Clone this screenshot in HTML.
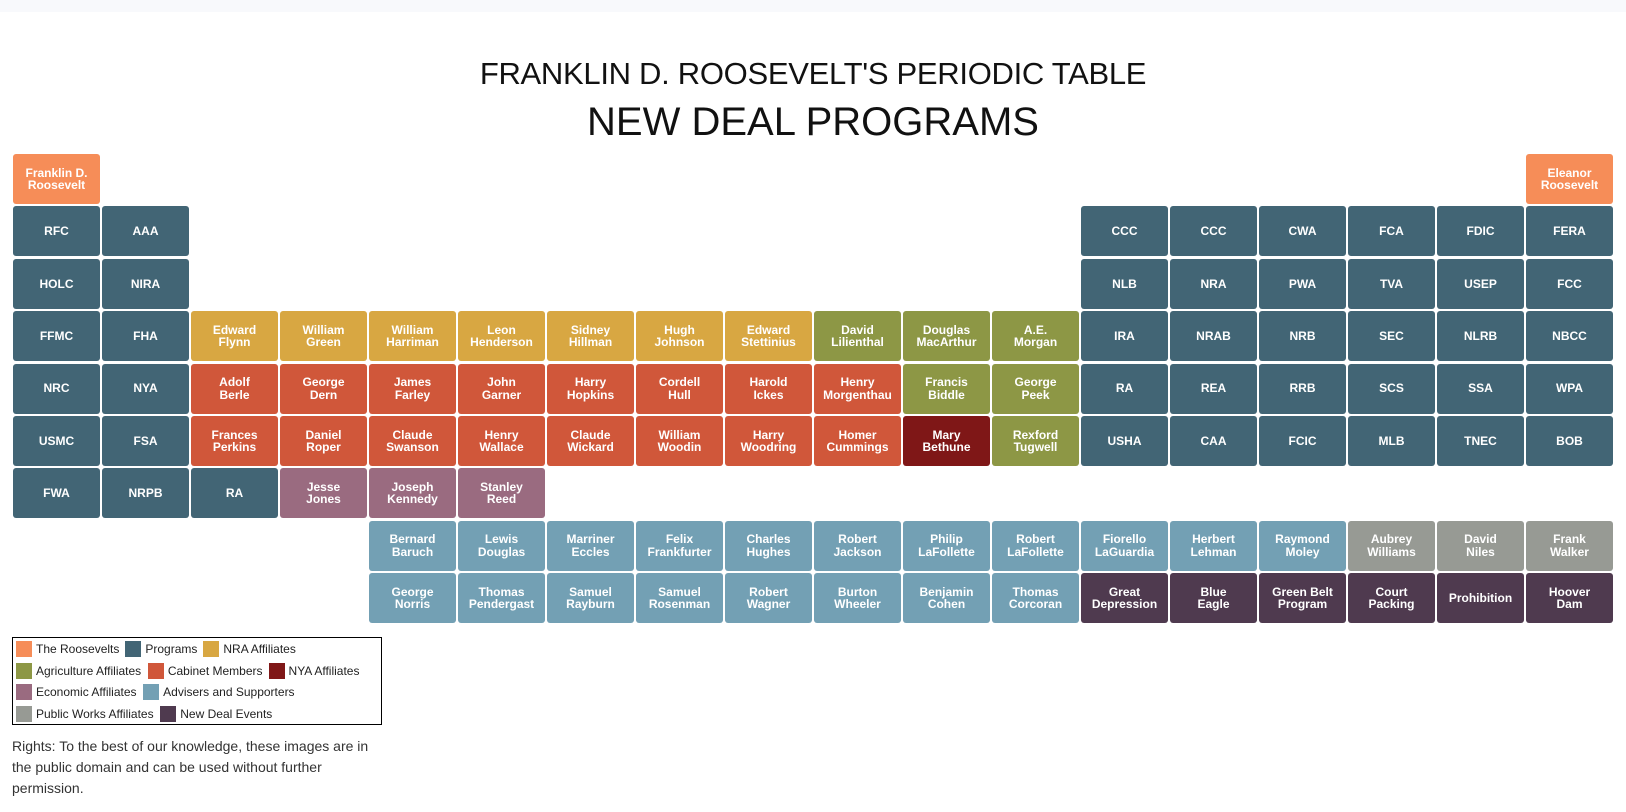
<!DOCTYPE html>
<html><head><meta charset="utf-8">
<style>
body{margin:0;width:1626px;height:812px;background:#fff;font-family:"Liberation Sans",Arial,sans-serif;position:relative;overflow:hidden}
#topband{position:absolute;left:0;top:0;width:1626px;height:12px;background:#f8f9fc}
.t1{position:absolute;left:0;width:1626px;text-align:center;color:#111;font-weight:normal}
.cell{position:absolute;width:87px;height:50px;border-radius:3px;color:#fff;font-weight:bold;font-size:12px;line-height:12.5px;display:flex;align-items:center;justify-content:center;text-align:center}
#legend{position:absolute;left:12px;top:637px;width:368px;height:86px;border:1px solid #000}
.li{position:absolute;font-size:12px;color:#222;display:flex;align-items:center;height:18px}
.sw{width:16px;height:16px;margin-right:4px}
#rights{position:absolute;left:12px;top:736px;width:372px;font-size:14px;line-height:21px;color:#333}
</style></head><body>
<div id="topband"></div>
<div class="t1" style="top:56px;font-size:31px;letter-spacing:-0.3px">FRANKLIN D. ROOSEVELT'S PERIODIC TABLE</div>
<div class="t1" style="top:100px;font-size:40px">NEW DEAL PROGRAMS</div>
<div id="table"></div>
<div id="legend"></div>
<div id="rights">Rights: To the best of our knowledge, these images are in the public domain and can be used without further permission.</div>
<script>
const categories=["The Roosevelts","Programs","NRA Affiliates","Agriculture Affiliates","Cabinet Members","NYA Affiliates","Economic Affiliates","Advisers and Supporters","Public Works Affiliates","New Deal Events"];
const colors=["#f68d58","#426575","#d8a742","#8d9745","#d0573a","#7f1717","#9a6b80","#73a0b4","#979a94","#4f3a4f"];
// [row, col, category index, label]
const elements=[
[0,0,0,"Franklin D.|Roosevelt"],[0,17,0,"Eleanor|Roosevelt"],
[1,0,1,"RFC"],[1,1,1,"AAA"],[1,12,1,"CCC"],[1,13,1,"CCC"],[1,14,1,"CWA"],[1,15,1,"FCA"],[1,16,1,"FDIC"],[1,17,1,"FERA"],
[2,0,1,"HOLC"],[2,1,1,"NIRA"],[2,12,1,"NLB"],[2,13,1,"NRA"],[2,14,1,"PWA"],[2,15,1,"TVA"],[2,16,1,"USEP"],[2,17,1,"FCC"],
[3,0,1,"FFMC"],[3,1,1,"FHA"],[3,2,2,"Edward|Flynn"],[3,3,2,"William|Green"],[3,4,2,"William|Harriman"],[3,5,2,"Leon|Henderson"],[3,6,2,"Sidney|Hillman"],[3,7,2,"Hugh|Johnson"],[3,8,2,"Edward|Stettinius"],[3,9,3,"David|Lilienthal"],[3,10,3,"Douglas|MacArthur"],[3,11,3,"A.E.|Morgan"],[3,12,1,"IRA"],[3,13,1,"NRAB"],[3,14,1,"NRB"],[3,15,1,"SEC"],[3,16,1,"NLRB"],[3,17,1,"NBCC"],
[4,0,1,"NRC"],[4,1,1,"NYA"],[4,2,4,"Adolf|Berle"],[4,3,4,"George|Dern"],[4,4,4,"James|Farley"],[4,5,4,"John|Garner"],[4,6,4,"Harry|Hopkins"],[4,7,4,"Cordell|Hull"],[4,8,4,"Harold|Ickes"],[4,9,4,"Henry|Morgenthau"],[4,10,3,"Francis|Biddle"],[4,11,3,"George|Peek"],[4,12,1,"RA"],[4,13,1,"REA"],[4,14,1,"RRB"],[4,15,1,"SCS"],[4,16,1,"SSA"],[4,17,1,"WPA"],
[5,0,1,"USMC"],[5,1,1,"FSA"],[5,2,4,"Frances|Perkins"],[5,3,4,"Daniel|Roper"],[5,4,4,"Claude|Swanson"],[5,5,4,"Henry|Wallace"],[5,6,4,"Claude|Wickard"],[5,7,4,"William|Woodin"],[5,8,4,"Harry|Woodring"],[5,9,4,"Homer|Cummings"],[5,10,5,"Mary|Bethune"],[5,11,3,"Rexford|Tugwell"],[5,12,1,"USHA"],[5,13,1,"CAA"],[5,14,1,"FCIC"],[5,15,1,"MLB"],[5,16,1,"TNEC"],[5,17,1,"BOB"],
[6,0,1,"FWA"],[6,1,1,"NRPB"],[6,2,1,"RA"],[6,3,6,"Jesse|Jones"],[6,4,6,"Joseph|Kennedy"],[6,5,6,"Stanley|Reed"],
[7,4,7,"Bernard|Baruch"],[7,5,7,"Lewis|Douglas"],[7,6,7,"Marriner|Eccles"],[7,7,7,"Felix|Frankfurter"],[7,8,7,"Charles|Hughes"],[7,9,7,"Robert|Jackson"],[7,10,7,"Philip|LaFollette"],[7,11,7,"Robert|LaFollette"],[7,12,7,"Fiorello|LaGuardia"],[7,13,7,"Herbert|Lehman"],[7,14,7,"Raymond|Moley"],[7,15,8,"Aubrey|Williams"],[7,16,8,"David|Niles"],[7,17,8,"Frank|Walker"],
[8,4,7,"George|Norris"],[8,5,7,"Thomas|Pendergast"],[8,6,7,"Samuel|Rayburn"],[8,7,7,"Samuel|Rosenman"],[8,8,7,"Robert|Wagner"],[8,9,7,"Burton|Wheeler"],[8,10,7,"Benjamin|Cohen"],[8,11,7,"Thomas|Corcoran"],[8,12,9,"Great|Depression"],[8,13,9,"Blue|Eagle"],[8,14,9,"Green Belt|Program"],[8,15,9,"Court|Packing"],[8,16,9,"Prohibition"],[8,17,9,"Hoover|Dam"]
];
const legendRows=[[0,1,2],[3,4,5],[6,7],[8,9]];
function xPos(c){return 13+c*89;}
function yPos(r){return 154+r*52.4;}
const table=document.getElementById('table');
elements.forEach(e=>{
  const d=document.createElement('div');
  d.className='cell';
  
  
  d.style.left=xPos(e[1])+'px';d.style.top=yPos(e[0])+'px';d.style.background=colors[e[2]];
  d.innerHTML=e[3].split('|').join('<br>');
  table.appendChild(d);
});
const lg=document.getElementById('legend');
const cv=document.createElement('canvas').getContext('2d');cv.font='12px "Liberation Sans", Arial';
legendRows.forEach((row,ri)=>{
  let x=3;
  row.forEach(ci=>{
    const it=document.createElement('div');
    it.className='li';
    
    
    it.style.left=x+'px';it.style.top=(2+ri*21.5)+'px';
    it.innerHTML='<span class="sw" style="background:'+colors[ci]+'"></span>'+categories[ci];
    lg.appendChild(it);
    x+=20+cv.measureText(categories[ci]).width+6;
  });
});
</script>
</body></html>
